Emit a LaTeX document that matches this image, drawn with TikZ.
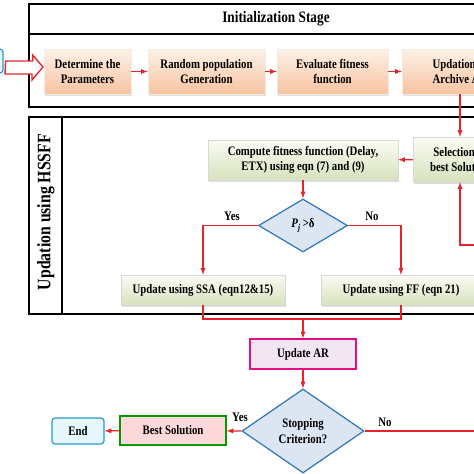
\documentclass[tikz,border=0pt]{standalone}
\usepackage{fontspec}
\setmainfont{Liberation Serif}[FakeStretch=0.83]
\usetikzlibrary{shapes.geometric,shadows}

\definecolor{flowred}{HTML}{E3262E}
\definecolor{peachtop}{HTML}{FDF1E7}
\definecolor{peachbot}{HTML}{F6C3A0}
\definecolor{greentop}{HTML}{FAFBF4}
\definecolor{greenbot}{HTML}{D7E2BC}
\definecolor{decfill}{HTML}{DCE6F2}
\definecolor{decline}{HTML}{2E75B6}

\tikzset{
 boxfont/.style={font=\bfseries\fontsize{13}{15.5}\selectfont},
 initbox/.style={rectangle, boxfont, align=center, draw=peachbot!80!black!20,
  top color=peachtop, bottom color=peachbot, minimum height=45pt,
  drop shadow={opacity=0.25, shadow xshift=1pt, shadow yshift=-1.5pt}},
 hsbox/.style={rectangle, boxfont, align=center, draw=black!15,
  top color=greentop, bottom color=greenbot,
  drop shadow={opacity=0.25, shadow xshift=1pt, shadow yshift=-1.5pt}},
 decide/.style={diamond, boxfont, align=center, draw=decline, line width=1.2pt,
  fill=decfill, inner sep=0pt},
 frame/.style={draw=black, line width=1.6pt},
 flow/.style={draw=flowred, line width=1.3pt},
 lbl/.style={boxfont, inner sep=1pt}
}

\begin{document}
\begin{tikzpicture}[x=1pt, y=-1pt]
 \useasboundingbox (0,0) rectangle (474,474);
 \clip (0,0) rectangle (474,474);

 % stage frames
 \draw[frame] (29,4) rectangle (495,107);
 \draw[frame] (29,34) -- (495,34);
 \node[font=\bfseries\fontsize{16}{18}\selectfont] (init) at (276,19) {Initialization Stage};
 \draw[frame] (29,117) rectangle (495,314);
 \draw[frame] (62,117) -- (62,314);
 \node[rotate=90, font=\bfseries\fontsize{19}{20}\selectfont] (hssff) at (46,212) {Updation using HSSFF};

 % initialization stage
 \draw node[rectangle, rounded corners=3pt, draw=cyan!60!teal, line width=1.2pt, fill=cyan!8,
  minimum width=46pt, minimum height=24pt] (start) at (-20,61) {};
 \draw node[initbox, minimum width=87pt] (det) at (87.5,71.5) {Determine the\\Parameters};
 \draw node[initbox, minimum width=117pt] (rnd) at (206.5,71.5) {Random population\\Generation};
 \draw node[initbox, minimum width=111pt] (evl) at (332.5,71.5) {Evaluate fitness\\function};
 \draw node[initbox, minimum width=116pt] (upd) at (460,71.5) {Updation of\\Archive AR};

 \draw[flowred, line width=1.4pt, fill=white]
  (start.east) ++(2,0) -- ++(27,0) -- ++(0,-6) -- (43,67) -- (32,80)
  -- ++(0,-6) -- ++(-27,0) -- cycle;
 \draw[flow, -latex] (det) -- (rnd);
 \draw[flow, -latex] (rnd) -- (evl);
 \draw[flow, -latex] (evl) -- (upd);

 % updation using HSSFF
 \draw node[hsbox, minimum width=94pt, minimum height=45pt] (sel) at (460,159.5) {Selection of\\best Solution};
 \draw node[hsbox, minimum width=190pt, minimum height=40pt] (cmp) at (303,160) {Compute fitness function (Delay,\\ETX) using eqn (7) and (9)};
 \draw node[decide, minimum width=89pt, minimum height=53pt, aspect=1.68] (pj) at (303,225.5) {{\itshape P\textsubscript{j}}\,>δ};
 \draw node[hsbox, minimum width=164pt, minimum height=30pt] (ssa) at (203,290) {Update using SSA (eqn12\&15)};
 \draw node[hsbox, minimum width=160pt, minimum height=30pt] (ff) at (401,290) {Update using FF (eqn 21)};

 \draw[flow, -latex] (upd) -- (sel);
 \draw[flow, -latex] (sel) -- (cmp);
 \draw[flow, -latex] (cmp) -- (pj);
 \draw[flow, -latex] (pj.west) -| (ssa.north);
 \node[lbl] (yes1) at (232,216) {Yes};
 \draw[flow, -latex] (pj.east) -| (ff.north);
 \node[lbl] (no1) at (372,216) {No};

 % after the update stage
 \draw node[rectangle, boxfont, draw=magenta!80!purple, line width=1.2pt, fill=violet!10,
  minimum width=106pt, minimum height=30pt] (ar) at (303,354) {Update AR};
 \draw node[decide, minimum width=122pt, minimum height=84pt, aspect=1.45] (stp) at (303,431) {Stopping\\Criterion?};
 \draw node[rectangle, boxfont, draw=green!60!black, line width=1.2pt, fill=pink!60,
  minimum width=106pt, minimum height=29pt] (best) at (173,430.5) {Best Solution};
 \draw node[rectangle, rounded corners=3pt, boxfont, draw=cyan!60!teal, line width=1.2pt, fill=cyan!10,
  minimum width=52pt, minimum height=26pt] (E) at (78,431) {End};

 \coordinate (merge) at (303,319);
 \draw[flow] (ssa.south) |- (merge) -| (ff.south);
 \draw[flow, -latex] (merge) -- (ar);
 \draw[flow, -latex] (ar) -- (stp);
 \draw[flow, -latex] (stp.west) -- (best);
 \node[lbl] (yes2) at (240,417) {Yes};
 \draw[flow, -latex] (best) -- (E);
 \coordinate (back) at (505,245);
 \draw[flow, -latex] (stp.east) -| (back) -| (sel.south);
 \node[lbl] (no2) at (385,422) {No};
\end{tikzpicture}
\end{document}
